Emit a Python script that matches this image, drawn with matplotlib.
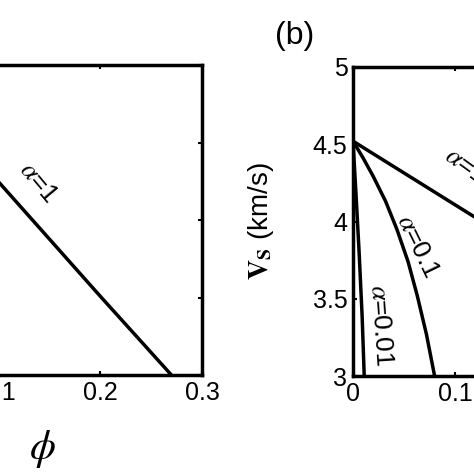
import matplotlib
matplotlib.use("Agg")
import matplotlib.pyplot as plt

plt.rcParams['font.family'] = ['Liberation Sans', 'DejaVu Sans']
plt.rcParams['mathtext.fontset'] = 'stix'

phi_a1_left = [0.0, 0.1, 0.2, 0.27]
vs_a1_left = [4.98, 4.25, 3.51, 3.0]

phi_a1 = [0.0, 0.119, 0.15]
vs_a1 = [4.52, 4.03, 3.90]
phi_a01 = [0.0, 0.01, 0.02, 0.032, 0.043, 0.054, 0.063, 0.072, 0.08]
vs_a01 = [4.52, 4.41, 4.29, 4.13, 3.95, 3.74, 3.52, 3.27, 3.0]
phi_a001 = [0.0, 0.003, 0.006, 0.009, 0.011]
vs_a001 = [4.52, 4.17, 3.8, 3.38, 3.0]

W = H = 474
fig = plt.figure(figsize=(4.74, 4.74), dpi=100)

def ax_at(x0, x1, y_top, y_bot):
    return fig.add_axes([x0 / W, 1 - y_bot / H, (x1 - x0) / W, (y_bot - y_top) / H])

lw = 2.5
axl = ax_at(-104, 202, 65, 375)
axl.plot(phi_a1_left, vs_a1_left, color='black', lw=lw)
axl.set_xlim(0, 0.3); axl.set_ylim(3, 5)
axl.set_xticks([0, 0.1, 0.2, 0.3]); axl.set_xticklabels(['0', '0.1', '0.2', '0.3'])
axl.set_yticks([3, 3.5, 4, 4.5, 5]); axl.set_yticklabels([])
axl.text(0.14, 4.24, r'$\alpha$=1', rotation=-50, fontsize=19, ha='center', va='center')
axl.set_xlabel(r'$\phi$', fontsize=30)
axl.xaxis.set_label_coords(0.48, -0.17)

axr = ax_at(353, 353 + 306, 67, 376)
axr.plot(phi_a1, vs_a1, color='black', lw=lw)
axr.plot(phi_a01, vs_a01, color='black', lw=lw)
axr.plot(phi_a001, vs_a001, color='black', lw=lw)
axr.set_xlim(0, 0.3); axr.set_ylim(3, 5)
axr.set_xticks([0, 0.1, 0.2, 0.3]); axr.set_xticklabels(['0', '0.1', '0.2', '0.3'])
axr.set_yticks([3, 3.5, 4, 4.5, 5]); axr.set_yticklabels(['3', '3.5', '4', '4.5', '5'])
axr.text(0.11, 4.36, r'$\alpha$=1', rotation=-36, fontsize=19, ha='center', va='center')
axr.text(0.064, 3.84, r'$\alpha$=0.1', rotation=-64, fontsize=19, ha='center', va='center')
axr.text(0.027, 3.33, r'$\alpha$=0.01', rotation=-86, fontsize=19, ha='center', va='center')
axr.set_ylabel(r'$\mathbf{V_S}$ (km/s)', fontsize=20)
axr.yaxis.set_label_coords(-0.25, 0.5)

for ax in (axl, axr):
    for s in ax.spines.values():
        s.set_linewidth(lw)
    ax.tick_params(direction='in', length=3, width=1.5, labelsize=18, top=True, right=True, pad=4)

fig.text(295 / W, 1 - 36 / H, '(b)', fontsize=23, ha='center', va='center')
fig.savefig('out.png', dpi=100)
